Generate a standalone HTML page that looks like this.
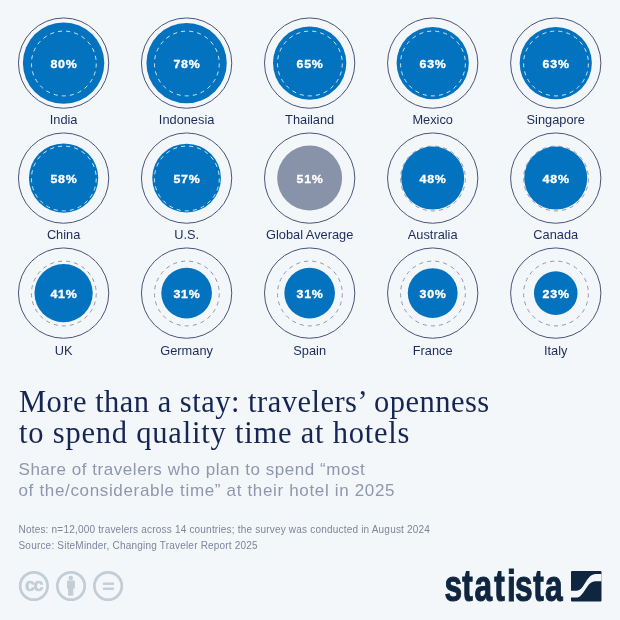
<!DOCTYPE html>
<html><head><meta charset="utf-8"><style>
html,body{margin:0;padding:0;}
body{width:620px;height:620px;background:#f3f7fa;position:relative;overflow:hidden;font-family:"Liberation Sans",sans-serif;}
svg{position:absolute;}
.pct{font-family:"Liberation Sans",sans-serif;font-weight:bold;font-size:11.7px;letter-spacing:0.7px;fill:#fff;stroke:#fff;stroke-width:0.35px;text-anchor:middle;}
.lbl{font-family:"Liberation Sans",sans-serif;font-size:12.8px;fill:#1c2b5a;text-anchor:middle;}
.title{position:absolute;left:19px;top:387px;font-family:"Liberation Serif",serif;font-size:30.5px;line-height:30.7px;color:#162654;white-space:nowrap;}
.title span,.sub span,.notes span{display:block;}
.sub{position:absolute;left:18.5px;top:458.5px;font-size:17px;line-height:21.7px;color:#8f97ad;white-space:nowrap;}
.notes{position:absolute;left:18.5px;top:522px;font-size:10px;line-height:16px;color:#7d8599;white-space:nowrap;letter-spacing:0.2px;}
</style></head><body>
<div id="wrap" style="position:absolute;left:0;top:0;width:620px;height:620px;will-change:transform">
<svg style="left:0;top:0" width="620" height="370" viewBox="0 0 620 370">
<circle cx="63.6" cy="63.1" r="45.15" fill="none" stroke="#485379" stroke-width="1"/>
<circle cx="63.6" cy="63.1" r="40.70" fill="#0373bf"/>
<circle cx="63.85" cy="63.50" r="32.4" fill="none" stroke="#ffffff" stroke-opacity="0.8" stroke-width="1" stroke-dasharray="4.072 4.072"/>
<text class="pct" x="0.35" transform="translate(63.6 68.05) scale(1.06 1)">80%</text>
<text x="63.6" y="123.8" class="lbl">India</text>
<circle cx="186.6" cy="63.1" r="45.15" fill="none" stroke="#485379" stroke-width="1"/>
<circle cx="186.6" cy="63.1" r="40.18" fill="#0373bf"/>
<circle cx="186.85" cy="63.50" r="32.4" fill="none" stroke="#ffffff" stroke-opacity="0.8" stroke-width="1" stroke-dasharray="4.072 4.072"/>
<text class="pct" x="0.35" transform="translate(186.6 68.05) scale(1.06 1)">78%</text>
<text x="186.6" y="123.8" class="lbl">Indonesia</text>
<circle cx="309.65" cy="63.1" r="45.15" fill="none" stroke="#485379" stroke-width="1"/>
<circle cx="309.65" cy="63.1" r="36.68" fill="#0373bf"/>
<circle cx="309.90" cy="63.50" r="32.4" fill="none" stroke="#ffffff" stroke-opacity="0.8" stroke-width="1" stroke-dasharray="4.072 4.072"/>
<text class="pct" x="0.35" transform="translate(309.65 68.05) scale(1.06 1)">65%</text>
<text x="309.65" y="123.8" class="lbl">Thailand</text>
<circle cx="432.7" cy="63.1" r="45.15" fill="none" stroke="#485379" stroke-width="1"/>
<circle cx="432.7" cy="63.1" r="36.11" fill="#0373bf"/>
<circle cx="432.95" cy="63.50" r="32.4" fill="none" stroke="#ffffff" stroke-opacity="0.8" stroke-width="1" stroke-dasharray="4.072 4.072"/>
<text class="pct" x="0.35" transform="translate(432.7 68.05) scale(1.06 1)">63%</text>
<text x="432.7" y="123.8" class="lbl">Mexico</text>
<circle cx="555.75" cy="63.1" r="45.15" fill="none" stroke="#485379" stroke-width="1"/>
<circle cx="555.75" cy="63.1" r="36.11" fill="#0373bf"/>
<circle cx="556.00" cy="63.50" r="32.4" fill="none" stroke="#ffffff" stroke-opacity="0.8" stroke-width="1" stroke-dasharray="4.072 4.072"/>
<text class="pct" x="0.35" transform="translate(555.75 68.05) scale(1.06 1)">63%</text>
<text x="555.75" y="123.8" class="lbl">Singapore</text>
<circle cx="63.6" cy="178.1" r="45.15" fill="none" stroke="#485379" stroke-width="1"/>
<circle cx="63.6" cy="178.1" r="34.65" fill="#0373bf"/>
<circle cx="63.85" cy="178.50" r="32.4" fill="none" stroke="#ffffff" stroke-opacity="0.8" stroke-width="1" stroke-dasharray="4.072 4.072"/>
<text class="pct" x="0.35" transform="translate(63.6 183.05) scale(1.06 1)">58%</text>
<text x="63.6" y="238.8" class="lbl">China</text>
<circle cx="186.6" cy="178.1" r="45.15" fill="none" stroke="#485379" stroke-width="1"/>
<circle cx="186.6" cy="178.1" r="34.35" fill="#0373bf"/>
<circle cx="186.85" cy="178.50" r="32.4" fill="none" stroke="#ffffff" stroke-opacity="0.8" stroke-width="1" stroke-dasharray="4.072 4.072"/>
<text class="pct" x="0.35" transform="translate(186.6 183.05) scale(1.06 1)">57%</text>
<text x="186.6" y="238.8" class="lbl">U.S.</text>
<circle cx="309.65" cy="178.1" r="45.15" fill="none" stroke="#485379" stroke-width="1"/>
<circle cx="309.65" cy="178.1" r="32.49" fill="#8892a8"/>
<text class="pct" x="0.35" transform="translate(309.65 183.05) scale(1.06 1)">51%</text>
<text x="309.65" y="238.8" class="lbl">Global Average</text>
<circle cx="432.7" cy="178.1" r="45.15" fill="none" stroke="#485379" stroke-width="1"/>
<circle cx="432.95" cy="178.50" r="32.4" fill="none" stroke="#8d96ac" stroke-width="1" stroke-dasharray="4.072 4.072"/>
<circle cx="432.7" cy="178.1" r="31.52" fill="#0373bf"/>
<text class="pct" x="0.35" transform="translate(432.7 183.05) scale(1.06 1)">48%</text>
<text x="432.7" y="238.8" class="lbl">Australia</text>
<circle cx="555.75" cy="178.1" r="45.15" fill="none" stroke="#485379" stroke-width="1"/>
<circle cx="556.00" cy="178.50" r="32.4" fill="none" stroke="#8d96ac" stroke-width="1" stroke-dasharray="4.072 4.072"/>
<circle cx="555.75" cy="178.1" r="31.52" fill="#0373bf"/>
<text class="pct" x="0.35" transform="translate(555.75 183.05) scale(1.06 1)">48%</text>
<text x="555.75" y="238.8" class="lbl">Canada</text>
<circle cx="63.6" cy="293.1" r="45.15" fill="none" stroke="#485379" stroke-width="1"/>
<circle cx="63.85" cy="293.50" r="32.4" fill="none" stroke="#8d96ac" stroke-width="1" stroke-dasharray="4.072 4.072"/>
<circle cx="63.6" cy="293.1" r="29.13" fill="#0373bf"/>
<text class="pct" x="0.35" transform="translate(63.6 298.05) scale(1.06 1)">41%</text>
<text x="63.6" y="354.7" class="lbl">UK</text>
<circle cx="186.6" cy="293.1" r="45.15" fill="none" stroke="#485379" stroke-width="1"/>
<circle cx="186.85" cy="293.50" r="32.4" fill="none" stroke="#8d96ac" stroke-width="1" stroke-dasharray="4.072 4.072"/>
<circle cx="186.6" cy="293.1" r="25.33" fill="#0373bf"/>
<text class="pct" x="0.35" transform="translate(186.6 298.05) scale(1.06 1)">31%</text>
<text x="186.6" y="354.7" class="lbl">Germany</text>
<circle cx="309.65" cy="293.1" r="45.15" fill="none" stroke="#485379" stroke-width="1"/>
<circle cx="309.90" cy="293.50" r="32.4" fill="none" stroke="#8d96ac" stroke-width="1" stroke-dasharray="4.072 4.072"/>
<circle cx="309.65" cy="293.1" r="25.33" fill="#0373bf"/>
<text class="pct" x="0.35" transform="translate(309.65 298.05) scale(1.06 1)">31%</text>
<text x="309.65" y="354.7" class="lbl">Spain</text>
<circle cx="432.7" cy="293.1" r="45.15" fill="none" stroke="#485379" stroke-width="1"/>
<circle cx="432.95" cy="293.50" r="32.4" fill="none" stroke="#8d96ac" stroke-width="1" stroke-dasharray="4.072 4.072"/>
<circle cx="432.7" cy="293.1" r="24.92" fill="#0373bf"/>
<text class="pct" x="0.35" transform="translate(432.7 298.05) scale(1.06 1)">30%</text>
<text x="432.7" y="354.7" class="lbl">France</text>
<circle cx="555.75" cy="293.1" r="45.15" fill="none" stroke="#485379" stroke-width="1"/>
<circle cx="556.00" cy="293.50" r="32.4" fill="none" stroke="#8d96ac" stroke-width="1" stroke-dasharray="4.072 4.072"/>
<circle cx="555.75" cy="293.1" r="21.82" fill="#0373bf"/>
<text class="pct" x="0.35" transform="translate(555.75 298.05) scale(1.06 1)">23%</text>
<text x="555.75" y="354.7" class="lbl">Italy</text>
</svg>
<div class="title"><span style="letter-spacing:0.49px">More than a stay: travelers’ openness</span><span style="letter-spacing:0.79px">to spend quality time at hotels</span></div>
<div class="sub"><span style="letter-spacing:0.54px">Share of travelers who plan to spend “most</span><span style="letter-spacing:0.66px">of the/considerable time” at their hotel in 2025</span></div>
<div class="notes"><span>Notes: n=12,000 travelers across 14 countries; the survey was conducted in August 2024</span><span>Source: SiteMinder, Changing Traveler Report 2025</span></div>
<svg style="left:0;top:560px" width="140" height="60" viewBox="0 560 140 60">
<g fill="none" stroke="#c3cdd6" stroke-width="2.75">
<circle cx="33.9" cy="586" r="13.7"/>
<circle cx="71" cy="586" r="13.7"/>
<circle cx="108.1" cy="586" r="13.7"/>
</g>
<g fill="#c3cdd6">
<text x="33.4" y="591" font-family="'Liberation Sans', sans-serif" font-weight="bold" font-size="18" text-anchor="middle" letter-spacing="-1.6" stroke="#c3cdd6" stroke-width="0.6">cc</text>
<circle cx="70.8" cy="578" r="2.3"/>
<rect x="67" y="580.6" width="7.9" height="8" rx="0.6"/>
<rect x="68.1" y="588" width="5.2" height="7.7"/>
<rect x="102.9" y="582.5" width="11.1" height="2.4"/>
<rect x="102.9" y="587.6" width="11.1" height="2.3"/>
</g>
</svg>
<svg style="left:440px;top:560px" width="180" height="50" viewBox="440 560 180 50">
<text transform="scale(0.72 1)" x="629.58 649.38 671.11 693.82 710.14 727.36 748.12 769.31" y="601.2" font-family="'Liberation Sans', sans-serif" font-weight="bold" font-size="44" fill="#0f2540" stroke="#0f2540" stroke-width="1.1" text-anchor="middle">statista</text>
<rect x="571" y="571" width="30.5" height="30.4" rx="1" fill="#0f2540"/>
<path d="M571,590.8 H576.5 C584.5,590.8 586,574 596,574 H601.5 V581.2 H595.5 C586,581.2 584.5,597.6 576,597.6 H571 Z" fill="#f3f7fa"/>
</svg>
</div>
</body></html>
